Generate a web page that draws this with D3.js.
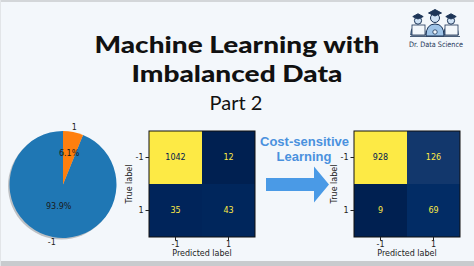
<!DOCTYPE html>
<meta charset="utf-8">
<script src="https://d3js.org/d3.v7.min.js"></script>
<style>
  body { margin: 0; background: #f3f7fb; }
  svg { display: block; }
</style>
<body>
<div id="chart"></div>
<script>
  // data
  var pieLabels = ["-1", "1"];
  var pieValues = [93.9, 6.1];
  var classLabels = ["-1", "1"];
  var cmBefore = [[1042, 12], [35, 43]];
  var cmAfter = [[928, 126], [9, 69]];

  var W = 474, H = 266;
  var svg = d3.select("#chart").append("svg")
    .attr("width", W).attr("height", H);

  // frame: light background with grey strips top and bottom
  svg.append("rect").attr("width", W).attr("height", H).attr("fill", "#f3f7fb");
  svg.append("rect").attr("width", W).attr("height", 2).attr("fill", "#d3d6d9");
  svg.append("rect").attr("y", 261).attr("width", W).attr("height", 5).attr("fill", "#c8cbce");
  svg.append("rect").attr("width", 1).attr("height", H).attr("fill", "#e2e5e8");

  // title
  var title = svg.append("g").attr("font-family", "Lato, 'Open Sans', sans-serif")
    .attr("text-anchor", "middle").attr("fill", "#111");
  title.append("text").attr("x", 237).attr("y", 53)
    .attr("font-size", 22).attr("font-weight", 900)
    .attr("textLength", 285).attr("lengthAdjust", "spacingAndGlyphs")
    .text("Machine Learning with");
  title.append("text").attr("x", 237).attr("y", 82)
    .attr("font-size", 22).attr("font-weight", 900)
    .attr("textLength", 211).attr("lengthAdjust", "spacingAndGlyphs")
    .text("Imbalanced Data");
  title.append("text").attr("x", 236).attr("y", 110)
    .attr("font-size", 20).attr("font-weight", 400)
    .text("Part 2");

  // pie (matplotlib style: startangle 90, counter-clockwise)
  var pieC = [63, 184.5], pieR = 53.5;
  var pie = d3.pie().sort(null).startAngle(0).endAngle(-2 * Math.PI);
  var arcs = pie(pieValues);
  var arc = d3.arc().innerRadius(0).outerRadius(pieR);
  var pieColors = ["#1f77b4", "#ff7f0e"];
  var pctDist = [0.42, 0.6];
  var pg = svg.append("g").attr("transform", "translate(" + pieC + ")");
  pg.append("circle").attr("cx", -1.5).attr("cy", 1.5).attr("r", pieR)
    .attr("fill", "#000").attr("opacity", 0.22);
  pg.selectAll("path.wedge").data(arcs).enter().append("path")
    .attr("class", "wedge")
    .attr("d", arc)
    .attr("fill", function (d, i) { return pieColors[i]; });
  function polar(d, r) {
    var a = (d.startAngle + d.endAngle) / 2;
    return [r * Math.sin(a), -r * Math.cos(a)];
  }
  pg.selectAll("text.lab").data(arcs).enter().append("text")
    .attr("class", "lab")
    .attr("x", function (d) { return polar(d, pieR * 1.1)[0]; })
    .attr("y", function (d) { return polar(d, pieR * 1.1)[1]; })
    .attr("dy", "0.35em").attr("text-anchor", "middle")
    .attr("font-family", "DejaVu Sans").attr("font-size", 8).attr("fill", "#222")
    .text(function (d, i) { return pieLabels[i]; });
  pg.selectAll("text.pct").data(arcs).enter().append("text")
    .attr("class", "pct")
    .attr("x", function (d, i) { return polar(d, pieR * pctDist[i])[0]; })
    .attr("y", function (d, i) { return polar(d, pieR * pctDist[i])[1]; })
    .attr("dy", "0.35em").attr("text-anchor", "middle")
    .attr("font-family", "DejaVu Sans").attr("font-size", 8).attr("fill", "#1a1a1a")
    .text(function (d) { return d.data.toFixed(1) + "%"; });

  // confusion matrix drawer
  function drawMatrix(cm, x0, y0, size) {
    var g = svg.append("g").attr("transform", "translate(" + x0 + "," + y0 + ")")
      .attr("font-family", "DejaVu Sans");
    var flat = [];
    cm.forEach(function (row, r) {
      row.forEach(function (v, c) { flat.push({ r: r, c: c, v: v }); });
    });
    var vmin = d3.min(flat, function (d) { return d.v; });
    var vmax = d3.max(flat, function (d) { return d.v; });
    var color = d3.scaleSequential(d3.interpolateCividis).domain([vmin, vmax]);
    var x = d3.scaleBand().domain([0, 1]).range([0, size]);
    var y = d3.scaleBand().domain([0, 1]).range([0, size]);
    g.selectAll("rect.cell").data(flat).enter().append("rect")
      .attr("class", "cell")
      .attr("x", function (d) { return x(d.c); })
      .attr("y", function (d) { return y(d.r); })
      .attr("width", x.bandwidth()).attr("height", y.bandwidth())
      .attr("fill", function (d) { return color(d.v); });
    var mid = (vmin + vmax) / 2;
    g.selectAll("text.val").data(flat).enter().append("text")
      .attr("class", "val")
      .attr("x", function (d) { return x(d.c) + x.bandwidth() / 2; })
      .attr("y", function (d) { return y(d.r) + y.bandwidth() / 2; })
      .attr("dy", "0.35em").attr("text-anchor", "middle")
      .attr("font-size", 8)
      .attr("fill", function (d) { return d.v > mid ? color(vmin) : color(vmax); })
      .text(function (d) { return d.v; });
    g.append("rect").attr("width", size).attr("height", size)
      .attr("fill", "none").attr("stroke", "#111").attr("stroke-width", 1);

    var yAxis = d3.axisLeft(y).tickSize(3.5).tickPadding(2)
      .tickFormat(function (d) { return classLabels[d]; });
    var xAxis = d3.axisBottom(x).tickSize(3.5).tickPadding(1)
      .tickFormat(function (d) { return classLabels[d]; });
    var ya = g.append("g").call(yAxis);
    var xa = g.append("g").attr("transform", "translate(0," + size + ")").call(xAxis);
    [ya, xa].forEach(function (a) {
      a.select(".domain").remove();
      a.selectAll("text").attr("font-family", "DejaVu Sans").attr("font-size", 8).attr("fill", "#222");
      a.selectAll("line").attr("stroke", "#222");
    });
    g.append("text").attr("x", size / 2).attr("y", size + 18.5)
      .attr("text-anchor", "middle").attr("font-size", 8).attr("fill", "#222")
      .text("Predicted label");
    g.append("text").attr("transform", "translate(-17," + size / 2 + ") rotate(-90)")
      .attr("text-anchor", "middle").attr("font-size", 8).attr("fill", "#222")
      .text("True label");
  }
  drawMatrix(cmBefore, 149, 131, 106);
  drawMatrix(cmAfter, 354, 131, 106);

  // arrow + caption
  var arrowBlue = "#4a9ae6";
  svg.append("path")
    .attr("d", "M266,178 L314,178 L314,166.5 L329,184.5 L314,202.5 L314,191 L266,191 Z")
    .attr("fill", arrowBlue);
  var cap = svg.append("g").attr("font-family", "'Liberation Sans', Arial, sans-serif")
    .attr("font-weight", 700).attr("font-size", 13).attr("fill", "#4a91de")
    .attr("text-anchor", "middle");
  cap.append("text").attr("x", 304.5).attr("y", 146)
    .attr("textLength", 89).attr("lengthAdjust", "spacingAndGlyphs").text("Cost-sensitive");
  cap.append("text").attr("x", 304).attr("y", 160.5).text("Learning");

  // logo: three graduates behind laptops
  var navy = "#1d3557";
  var logo = svg.append("g").attr("stroke", navy).attr("stroke-width", 1);
  [[418, 0.8, 15], [451, 0.8, 15], [435, 1, 11]].forEach(function (p) {
    var cx = p[0], s = p[1], top = p[2];
    logo.append("path")
      .attr("d", "M" + (cx - 9 * s) + "," + (top + 25 * s) + " Q" + (cx - 9 * s) + "," + (top + 13 * s) +
        " " + cx + "," + (top + 13 * s) + " Q" + (cx + 9 * s) + "," + (top + 13 * s) + " " + (cx + 9 * s) + "," + (top + 25 * s) + " Z")
      .attr("fill", "#9fc4e8");
    logo.append("circle").attr("cx", cx).attr("cy", top + 7 * s).attr("r", 4.5 * s).attr("fill", "#cfe2f5");
    logo.append("path")
      .attr("d", "M" + (cx - 6.5 * s) + "," + (top + 2 * s) + " L" + cx + "," + (top - 1.5 * s) + " L" + (cx + 6.5 * s) + "," + (top + 2 * s) + " L" + cx + "," + (top + 5 * s) + " Z")
      .attr("fill", navy);
  });
  // laptops in front of the side figures, badge on the middle one
  [[412, 25], [445, 25]].forEach(function (p) {
    logo.append("rect").attr("x", p[0]).attr("y", p[1]).attr("width", 13).attr("height", 10)
      .attr("fill", "#f3f7fb").attr("stroke-width", 0.8);
  });
  logo.append("circle").attr("cx", 435).attr("cy", 32).attr("r", 2.2).attr("fill", "#f3f7fb").attr("stroke-width", 0.8);
  logo.append("line").attr("x1", 410).attr("x2", 460).attr("y1", 36.5).attr("y2", 36.5).attr("stroke-width", 0.8);
  svg.append("text").attr("x", 436).attr("y", 47).attr("text-anchor", "middle")
    .attr("font-family", "'Liberation Sans Narrow', 'DejaVu Sans Condensed', sans-serif")
    .attr("font-size", 7.5).attr("fill", navy)
    .attr("textLength", 54).attr("lengthAdjust", "spacingAndGlyphs")
    .text("Dr. Data Science");
</script>
</body>
